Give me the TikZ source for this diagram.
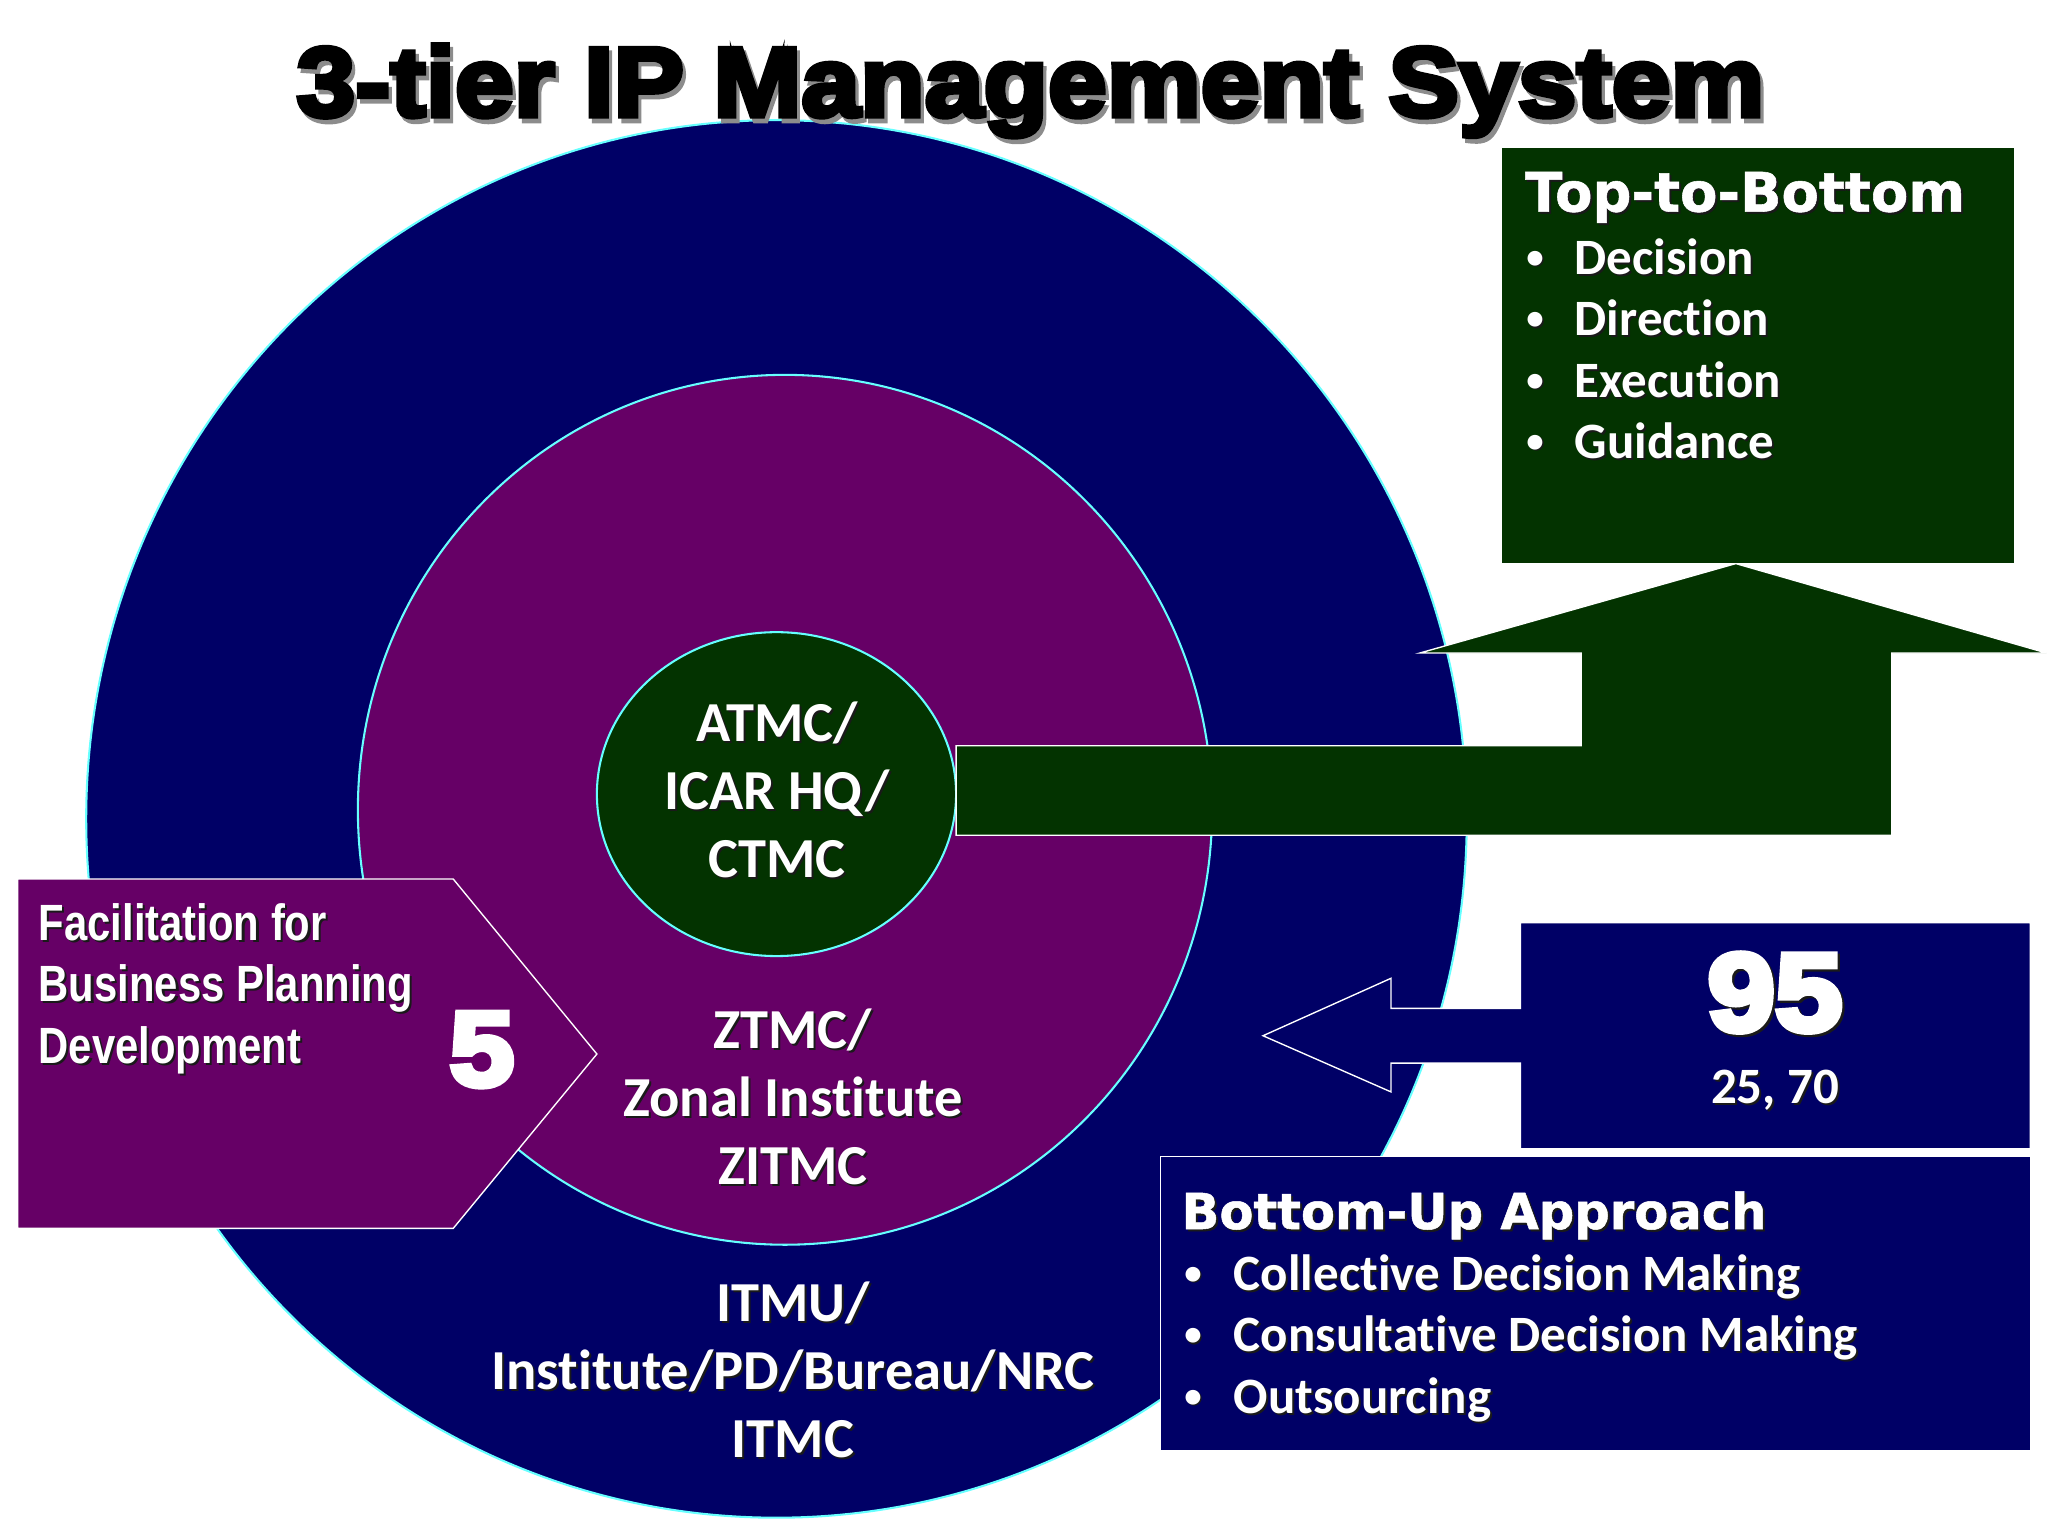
\documentclass[tikz,border=0pt]{standalone}
\usepackage{fontspec}
\setmainfont{Carlito}[Ligatures={TeX,NoCommon}]
\newfontfamily\titlefont{Liberation Sans Bold}[FakeBold=5,FakeStretch=1.07]
\newfontfamily\headfont{DejaVu Sans Bold}[FakeBold=1]
\newfontfamily\narrowfont{Liberation Sans Bold}[FakeStretch=0.82]
\newfontfamily\numfont{Liberation Sans Bold}[FakeBold=6,FakeStretch=1.1]
\definecolor{navyc}{HTML}{000066}
\definecolor{purplec}{HTML}{660066}
\definecolor{greenc}{HTML}{033300}
\definecolor{cyanc}{HTML}{66FFFF}
\definecolor{shadowc}{HTML}{1A1A1A}
\newcommand{\shtext}[2][0.45pt]{\leavevmode\rlap{\raisebox{-#1}{\kern#1\textcolor{shadowc}{#2}}}#2}
\newcommand{\bulletmark}{\raisebox{1.3pt}{\fontsize{7.6pt}{9pt}\selectfont\shtext[0.3pt]{•}}}
\tikzset{
  ring/.style={draw=cyanc,line width=0.45pt},
  panel/.style={draw=white,line width=0.3pt},
  body/.style={text=white,font=\fontsize{12.3pt}{14pt}\selectfont\bfseries,anchor=base,inner sep=0pt},
  item/.style={text=white,font=\fontsize{11.1pt}{13pt}\selectfont\bfseries,anchor=base west,inner sep=0pt},
  facil/.style={text=white,font=\fontsize{11.1pt}{13pt}\narrowfont,anchor=base west,inner sep=0pt},
  bignum/.style={text=white,anchor=base,inner sep=0pt}
}
\begin{document}
\begin{tikzpicture}[x=0.01cm,y=-0.01cm]
\useasboundingbox (0,0) rectangle (1568,1176);
% circles
\draw[ring,fill=navyc] (594.5,627) ellipse [x radius=528.5,y radius=535];
\draw[ring,fill=purplec] (601,620) ellipse [x radius=327,y radius=333];
\draw[ring,fill=greenc] (594.5,608) ellipse [x radius=137.5,y radius=124];
% pentagon
\draw[panel,fill=purplec] (13.5,673) -- (347,673) -- (457,807) -- (347,940.5) -- (13.5,940.5) -- cycle;
% green arrow
\draw[panel,fill=greenc] (732,571) -- (1210.5,571) -- (1210.5,500) -- (1087,500) -- (1329,431.5) -- (1567,500) -- (1448.5,500) -- (1448.5,639.5) -- (732,639.5) -- cycle;
% green box
\draw[panel,fill=greenc] (1149.5,112.5) rectangle (1542.5,431.5);
% navy box with arrow
\draw[panel,fill=navyc] (1164,706.5) -- (1554.5,706.5) -- (1554.5,879.5) -- (1164,879.5) -- (1164,814) -- (1065,814) -- (1065,836) -- (967,793) -- (1065,749) -- (1065,772) -- (1164,772) -- cycle;
% bottom-up box
\draw[panel,fill=navyc] (888.5,885.5) rectangle (1554.5,1110.5);
% title
\node[anchor=base,inner sep=0pt,font=\fontsize{21.5pt}{26pt}\titlefont] (title) at (789,89) {\leavevmode\rlap{\raisebox{-1pt}{\kern0.7pt\textcolor{black!45}{3-tier IP Management System}}}3-tier IP Management System};
% ring texts
\node[body] (a1) at (595,568) {\shtext{ATMC/}};
\node[body] (a2) at (595,620) {\shtext{ICAR HQ/}};
\node[body] (a3) at (595,672) {\shtext{CTMC}};
\node[body] (z1) at (607,803) {\shtext{ZTMC/}};
\node[body] (z2) at (607,855) {\shtext{Zonal Institute}};
\node[body] (z3) at (607,907) {\shtext{ZITMC}};
\node[body] (i1) at (607,1012) {\shtext{ITMU/}};
\node[body] (i2) at (607,1064) {\shtext{Institute/PD/Bureau/NRC}};
\node[body] (i3) at (607,1116) {\shtext{ITMC}};
% facilitation
\node[facil] (f1) at (29,720) {\shtext{Facilitation for}};
\node[facil] (f2) at (29,767) {\shtext{Business Planning}};
\node[facil] (f3) at (29,814) {\shtext{Development}};
\node[bignum,font=\fontsize{23pt}{26pt}\numfont] (five) at (369,831) {5};
% top-to-bottom
\node[text=white,anchor=base west,inner sep=0pt,font=\fontsize{11.85pt}{14pt}\headfont] (t0) at (1167,162) {\shtext{Top-to-Bottom}};
\node[item] (tb1) at (1168,210) {\bulletmark};
\node[item] (t1) at (1205,210) {\shtext{Decision}};
\node[item] (tb2) at (1168,257) {\bulletmark};
\node[item] (t2) at (1205,257) {\shtext{Direction}};
\node[item] (tb3) at (1168,304) {\bulletmark};
\node[item] (t3) at (1205,304) {\shtext{Execution}};
\node[item] (tb4) at (1168,351) {\bulletmark};
\node[item] (t4) at (1205,351) {\shtext{Guidance}};
% 95
\node[bignum,font=\fontsize{24pt}{26pt}\numfont] (n95) at (1359,789) {\shtext[0.5pt]{95}};
\node[bignum,font=\fontsize{11.1pt}{13pt}\selectfont\bfseries] (n2570) at (1359,845) {\shtext{25, 70}};
% bottom-up
\node[text=white,anchor=base west,inner sep=0pt,font=\fontsize{10.8pt}{13pt}\headfont] (b0) at (904,941) {\shtext{Bottom-Up Approach}};
\node[item] (bb1) at (906,988) {\bulletmark};
\node[item] (b1) at (944,988) {\shtext{Collective Decision Making}};
\node[item] (bb2) at (906,1035) {\bulletmark};
\node[item] (b2) at (944,1035) {\shtext{Consultative Decision Making}};
\node[item] (bb3) at (906,1082) {\bulletmark};
\node[item] (b3) at (944,1082) {\shtext{Outsourcing}};
\end{tikzpicture}
\end{document}
